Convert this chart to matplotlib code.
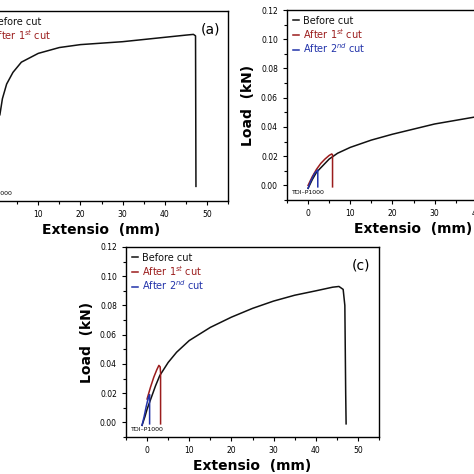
import matplotlib
matplotlib.use("Agg")
import matplotlib.pyplot as plt
from matplotlib.ticker import MultipleLocator

# panel (a)
a_before_x = [0.9, 1.5, 2.5, 4, 6, 10, 15, 20, 25, 30, 35, 40, 45, 46.8, 47.3, 47.4]
a_before_y = [0.049, 0.060, 0.070, 0.078, 0.085, 0.091, 0.095, 0.097, 0.098, 0.099, 0.1005, 0.102, 0.1035, 0.104, 0.103, 0.000]

# panel (b)
b_before_x = [0, 1, 2, 3, 5, 7, 10, 15, 20, 25, 30, 35, 40, 45, 50]
b_before_y = [-0.002, 0.004, 0.009, 0.012, 0.018, 0.022, 0.026, 0.031, 0.035, 0.0385, 0.042, 0.0445, 0.047, 0.049, 0.051]
b_cut1_x = [0, 1, 2, 3, 4, 5, 5.6, 5.8, 5.8]
b_cut1_y = [0.0, 0.006, 0.011, 0.015, 0.018, 0.0205, 0.0215, 0.021, -0.001]
b_cut2_x = [0, 0.5, 1, 1.5, 2.1, 2.3, 2.3]
b_cut2_y = [-0.002, 0.002, 0.005, 0.008, 0.010, 0.0105, -0.001]

# panel (c)
c_before_x = [-1.2, -0.5, 0, 1, 2, 3, 5, 7, 10, 15, 20, 25, 30, 35, 40, 44, 45.5, 46.5, 46.9, 47.0, 47.1, 47.2]
c_before_y = [-0.002, 0.004, 0.009, 0.017, 0.025, 0.032, 0.041, 0.048, 0.056, 0.065, 0.072, 0.078, 0.083, 0.087, 0.090, 0.0925, 0.093, 0.091, 0.080, 0.050, 0.020, -0.001]
c_cut1_x = [0, 0.8, 1.6, 2.3, 2.8, 3.1, 3.2, 3.2]
c_cut1_y = [0.016, 0.024, 0.031, 0.036, 0.039, 0.038, 0.034, -0.001]
c_cut2_x = [-1.2, -0.7, -0.2, 0.3, 0.6, 0.6]
c_cut2_y = [-0.002, 0.004, 0.011, 0.017, 0.019, -0.001]

BLACK = "#111111"
RED = "#9b1c1c"
BLUE = "#2233aa"

fig = plt.figure(figsize=(4.74, 4.74), dpi=100)
W = 474.0


def make_ax(left, top, right, bottom):
    return fig.add_axes([left / W, 1 - bottom / W, (right - left) / W, (bottom - top) / W])


def style(ax, tag=None, ylabel=True):
    ax.set_xlim(-5, 55)
    ax.set_ylim(-0.01, 0.12)
    ax.xaxis.set_major_locator(MultipleLocator(10))
    ax.xaxis.set_minor_locator(MultipleLocator(5))
    ax.yaxis.set_major_locator(MultipleLocator(0.02))
    ax.yaxis.set_minor_locator(MultipleLocator(0.01))
    ax.yaxis.set_major_formatter(plt.FormatStrFormatter("%.2f"))
    ax.tick_params(which="both", direction="out", labelsize=5.5, width=0.8)
    ax.tick_params(which="major", length=3)
    ax.tick_params(which="minor", length=2)
    for s in ax.spines.values():
        s.set_linewidth(1.0)
    ax.set_xlabel("Extensio  (mm)", fontsize=10, fontweight="bold", labelpad=3)
    if ylabel:
        ax.set_ylabel("Load  (kN)", fontsize=10, fontweight="bold", labelpad=4)
    ax.text(0.02, 0.03, "TDI\u2013P1000", transform=ax.transAxes, fontsize=4.5)
    if tag:
        ax.text(0.93, 0.88, tag, transform=ax.transAxes, fontsize=10, ha="center")


def legend(ax, n):
    labels = ["Before cut", "After 1$^{st}$ cut", "After 2$^{nd}$ cut"][:n]
    colors = [BLACK, RED, BLUE][:n]
    leg = ax.legend(labels, loc="upper left", frameon=False, fontsize=7,
                    handlelength=0.6, handletextpad=0.4, labelspacing=0.1,
                    borderaxespad=0.2)
    for t, c in zip(leg.get_texts(), colors):
        t.set_color(c)


# (a)
ax = make_ax(-25, 11, 228, 201)
ax.plot(a_before_x, a_before_y, color=BLACK, lw=1.1, label="Before cut")
ax.plot([], [], color=RED, lw=1.1)
style(ax, "(a)")
legend(ax, 2)

# (b)
ax = make_ax(287, 10, 540, 200)
ax.plot(b_before_x, b_before_y, color=BLACK, lw=1.1)
ax.plot(b_cut1_x, b_cut1_y, color=RED, lw=1.1)
ax.plot(b_cut2_x, b_cut2_y, color=BLUE, lw=1.1)
style(ax, None)
legend(ax, 3)

# (c)
ax = make_ax(126, 247, 379, 437)
ax.plot(c_before_x, c_before_y, color=BLACK, lw=1.1)
ax.plot(c_cut1_x, c_cut1_y, color=RED, lw=1.1)
ax.plot(c_cut2_x, c_cut2_y, color=BLUE, lw=1.1)
style(ax, "(c)")
legend(ax, 3)

fig.savefig("out.png", dpi=100)
